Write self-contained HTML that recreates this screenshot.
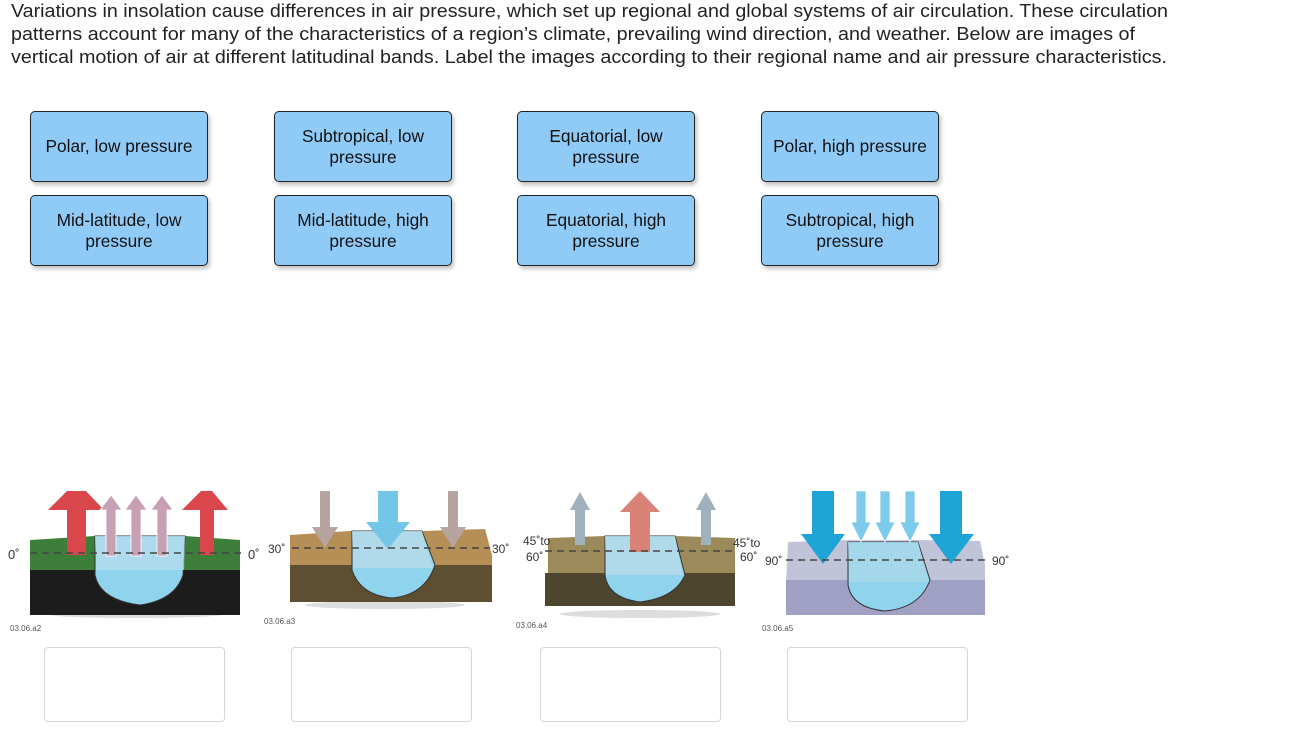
<!DOCTYPE html>
<html><head><meta charset="utf-8"><style>
body{margin:0;width:1296px;height:730px;background:#fff;font-family:"Liberation Sans",sans-serif;position:relative;overflow:hidden}
.b{position:absolute;width:176px;height:69px;background:#8fcbf6;border:1px solid #222;border-radius:5px;box-shadow:2px 3px 4px rgba(0,0,0,.25);display:flex;align-items:center;justify-content:center;text-align:center;font-size:17.3px;color:#111;line-height:21px}
.a{position:absolute;width:179px;height:73px;border:1px solid #d6d6d6;border-radius:4px;top:647px}
</style></head><body>
<svg width="1296" height="730" style="position:absolute;left:0;top:0" font-family="Liberation Sans, sans-serif">
<g font-size="18" fill="#222">
<text x="11" y="17" textLength="1157" lengthAdjust="spacingAndGlyphs">Variations in insolation cause differences in air pressure, which set up regional and global systems of air circulation. These circulation</text>
<text x="11" y="40" textLength="1124" lengthAdjust="spacingAndGlyphs">patterns account for many of the characteristics of a region’s climate, prevailing wind direction, and weather. Below are images of</text>
<text x="11" y="63" textLength="1156" lengthAdjust="spacingAndGlyphs">vertical motion of air at different latitudinal bands. Label the images according to their regional name and air pressure characteristics.</text>
</g>
<!-- image 1 -->
<ellipse cx="135" cy="614" rx="90" ry="4" fill="#ddd"/>
<polygon points="30,540 95,536 185,536 240,540 240,570 30,570" fill="#3d7f3a"/>
<rect x="30" y="570" width="210" height="45" fill="#1c1c1c"/>
<path d="M95,536 L185,536 L183,575 Q175,600 140,605 Q100,600 95,575 Z" fill="#8fd3ec" stroke="#333" stroke-width="1"/>
<path d="M95,536 L185,536 L184,570 L96,570 Z" fill="#b4dced" opacity=".8"/>
<g fill="#d9474d"><polygon points="48,510 67,491 86,491 104,510 86,510 86,555 67,555 67,510"/><polygon points="182,510 201,491 212,491 228,510 214,510 214,555 200,555 200,510"/></g>
<g fill="#c8a0b4" stroke="#fff" stroke-width=".8"><polygon points="100,510 111,495 122,510 116,510 116,556 106,556 106,510"/><polygon points="125,510 136,495 147,510 141,510 141,556 131,556 131,510"/><polygon points="151,510 162,495 173,510 167,510 167,556 157,556 157,510"/></g>
<line x1="30" y1="553" x2="244" y2="553" stroke="#444" stroke-width="1.5" stroke-dasharray="7,5"/>
<text x="8" y="559" font-size="13" fill="#333">0˚</text><text x="248" y="559" font-size="13" fill="#333">0˚</text>
<text x="10" y="631" font-size="8" fill="#555">03.06.a2</text>
<!-- image 2 -->
<ellipse cx="385" cy="605" rx="80" ry="4" fill="#ddd"/>
<polygon points="290,535 350,531 422,531 485,529 492,555 492,570 290,570" fill="#b58f55"/>
<rect x="290" y="565" width="202" height="37" fill="#5e4e32"/>
<path d="M352,531 L422,531 L435,565 Q425,595 392,598 Q360,595 352,570 Z" fill="#8fd3ec" stroke="#333"/>
<path d="M352,531 L422,531 L433,568 L353,568 Z" fill="#b8dcea" opacity=".8"/>
<g fill="#b7a49e"><polygon points="320,491 330,491 330,527 338,527 325,548 312,527 320,527"/><polygon points="448,491 458,491 458,527 466,527 453,548 440,527 448,527"/></g>
<polygon points="378,491 398,491 398,522 410,522 388,549 366,522 378,522" fill="#73c6e6"/>
<line x1="292" y1="548" x2="490" y2="548" stroke="#444" stroke-width="1.5" stroke-dasharray="7,5"/>
<text x="268" y="553" font-size="12" fill="#333">30˚</text><text x="492" y="553" font-size="12" fill="#333">30˚</text>
<text x="264" y="624" font-size="8" fill="#555">03.06.a3</text>
<!-- image 3 -->
<ellipse cx="640" cy="614" rx="80" ry="4" fill="#ddd"/>
<polygon points="548,538 605,536 675,536 735,538 735,575 548,575" fill="#9c8a5a"/>
<rect x="545" y="573" width="190" height="33" fill="#4e452e"/>
<path d="M605,536 L675,536 L685,575 Q675,598 640,602 Q608,598 605,575 Z" fill="#8fd3ec" stroke="#333"/>
<path d="M605,536 L675,536 L683,575 L606,575 Z" fill="#b8dcea" opacity=".8"/>
<g fill="#9fb1bc"><polygon points="570,510 580,492 590,510 585,510 585,545 575,545 575,510"/><polygon points="696,510 706,492 716,510 711,510 711,545 701,545 701,510"/></g>
<polygon points="620,512 640,491 660,512 650,512 650,552 630,552 630,512" fill="#d98377"/>
<line x1="545" y1="551" x2="737" y2="551" stroke="#444" stroke-width="1.5" stroke-dasharray="7,5"/>
<text x="523" y="545" font-size="12" fill="#333">45˚to</text><text x="526" y="561" font-size="12" fill="#333">60˚</text>
<text x="733" y="547" font-size="12" fill="#333">45˚to</text><text x="740" y="561" font-size="12" fill="#333">60˚</text>
<text x="516" y="628" font-size="8" fill="#555">03.06.a4</text>
<!-- image 4 -->
<polygon points="788,542 848,540 918,540 980,541 985,565 985,585 786,585" fill="#c1c3d8"/>
<rect x="786" y="580" width="199" height="35" fill="#9fa0c3"/>
<path d="M848,542 L918,542 L930,580 Q920,608 885,611 Q852,608 848,585 Z" fill="#8fd3ec" stroke="#333"/>
<path d="M848,542 L918,542 L929,582 L849,582 Z" fill="#a9d8ea" opacity=".8"/>
<g fill="#1ea5d6"><polygon points="812,491 834,491 834,534 845,534 823,564 801,534 812,534"/><polygon points="940,491 962,491 962,534 974,534 951,564 929,534 940,534"/></g>
<g fill="#7ccbea" stroke="#fff" stroke-width=".8"><polygon points="856,491 866,491 866,522 871,522 861,542 851,522 856,522"/><polygon points="880,491 890,491 890,522 895,522 885,542 875,522 880,522"/><polygon points="905,491 915,491 915,522 920,522 910,542 900,522 905,522"/></g>
<line x1="786" y1="560" x2="988" y2="560" stroke="#444" stroke-width="1.5" stroke-dasharray="7,5"/>
<text x="765" y="565" font-size="12" fill="#333">90˚</text><text x="992" y="565" font-size="12" fill="#333">90˚</text>
<text x="762" y="631" font-size="8" fill="#555">03.06.a5</text>
</svg>
<div class="b" style="left:30px;top:111px">Polar, low pressure</div>
<div class="b" style="left:274px;top:111px">Subtropical, low<br>pressure</div>
<div class="b" style="left:517px;top:111px">Equatorial, low<br>pressure</div>
<div class="b" style="left:761px;top:111px">Polar, high pressure</div>
<div class="b" style="left:30px;top:195px">Mid-latitude, low<br>pressure</div>
<div class="b" style="left:274px;top:195px">Mid-latitude, high<br>pressure</div>
<div class="b" style="left:517px;top:195px">Equatorial, high<br>pressure</div>
<div class="b" style="left:761px;top:195px">Subtropical, high<br>pressure</div>
<div class="a" style="left:44px"></div>
<div class="a" style="left:291px"></div>
<div class="a" style="left:540px"></div>
<div class="a" style="left:787px"></div>
</body></html>
